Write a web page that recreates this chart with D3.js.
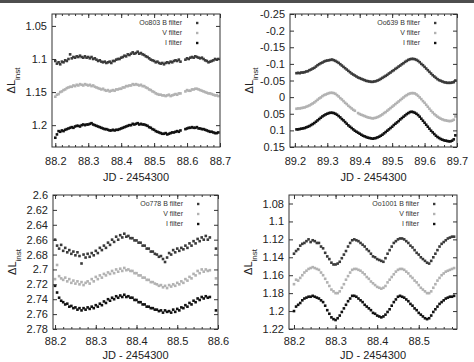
<!DOCTYPE html>
<html><head><meta charset="utf-8">
<script src="https://cdn.jsdelivr.net/npm/d3@7"></script>
<style>body{margin:0;background:#fff}svg{display:block}</style>
</head><body>
<svg id="c" width="474" height="362"></svg>
<script>
// ---- data ----
const seriesNames = ["B filter", "V filter", "I filter"];
const starNames = ["Oo803", "Oo639", "Oo778", "Oo1001"];
const xTitle = "JD - 2454300";

const p1XTicks = [88.2, 88.3, 88.4, 88.5, 88.6, 88.7];
const p1YTicks = [1.05, 1.1, 1.15, 1.2];
const p1Start = 88.2, p1Step = 0.005;
const p1B = [1.103,1.107,1.105,1.108,1.104,1.105,1.102,1.103,1.100,1.093,
1.099,1.097,1.098,1.096,1.097,1.095,1.097,1.098,1.096,1.098,
1.097,1.099,1.097,1.100,1.099,1.101,1.103,1.102,1.104,1.105,
1.104,1.106,1.105,1.104,1.106,1.103,1.103,1.101,1.100,1.100,
1.098,1.097,1.095,1.096,1.093,1.094,1.092,1.090,1.092,1.091,
1.089,1.092,1.091,1.093,1.094,1.096,1.097,1.099,1.101,1.102,
1.103,1.105,1.104,1.106,1.107,1.106,1.108,1.106,1.105,1.106,
1.104,1.105,1.103,1.102,1.103,1.101,1.104,null,null,1.101,
1.099,1.100,1.098,1.097,1.098,1.096,1.097,1.098,1.099,1.098,
1.100,1.102,1.103,1.105,1.104,1.103,1.102,1.100,1.101,1.100];
const p1V = [1.157,1.154,1.153,1.150,1.149,1.147,1.146,1.144,1.143,1.142,
1.142,1.140,1.141,1.139,1.140,1.138,1.139,1.140,1.138,1.139,
1.140,1.139,1.141,1.140,1.142,1.143,1.144,1.145,1.146,1.145,
1.147,1.148,1.147,1.149,1.148,1.147,1.148,1.146,1.146,1.145,
1.145,1.143,1.143,1.141,1.141,1.140,1.140,1.138,1.139,1.138,
1.139,1.140,1.139,1.141,1.141,1.143,1.144,1.146,1.147,1.149,
1.150,1.152,1.153,1.154,1.154,1.155,1.155,1.156,1.155,1.154,
1.156,1.155,1.154,1.153,1.154,1.152,1.152,null,null,1.149,
1.147,1.148,1.148,1.146,1.146,1.145,1.145,1.146,1.147,1.148,
1.149,1.150,1.151,1.152,1.152,1.153,1.154,1.155,1.155,1.156];
const p1I = [1.219,1.214,1.209,1.210,1.208,1.209,1.207,1.206,1.205,1.204,
1.203,1.204,1.202,1.201,1.201,1.202,1.200,1.199,1.200,1.199,
1.199,1.198,1.197,1.199,1.200,1.201,1.202,1.203,1.204,1.205,
1.206,1.206,1.207,1.208,1.208,1.207,1.208,1.207,1.207,1.206,
1.205,1.204,1.203,1.202,1.201,1.200,1.200,1.198,1.199,1.198,
1.197,1.199,1.198,1.199,1.199,1.200,1.201,1.203,1.204,1.206,
1.207,1.209,1.210,1.211,1.212,1.213,1.213,1.212,1.214,1.213,
1.212,1.211,1.211,1.210,1.209,1.210,1.208,null,null,1.206,
1.205,1.204,1.204,1.203,1.204,1.204,1.203,1.205,1.205,1.206,
1.206,1.207,1.208,1.209,1.210,1.210,1.211,1.212,1.212,1.211];

const p2XTicks = [89.2, 89.3, 89.4, 89.5, 89.6, 89.7];
const p2YTicks = [-0.25, -0.2, -0.15, -0.1, -0.05, 0, 0.05, 0.1, 0.15];
const p2Start = 89.205, p2Step = 0.005;
const p2B = [-0.072,-0.073,-0.072,-0.074,-0.074,-0.075,-0.077,-0.078,-0.081,-0.083,
-0.086,-0.088,-0.092,-0.096,-0.099,-0.102,-0.104,-0.107,-0.109,-0.110,
-0.111,-0.112,-0.113,-0.111,-0.109,-0.106,-0.103,-0.099,-0.095,-0.091,
-0.087,-0.083,-0.079,-0.075,-0.071,-0.068,-0.065,-0.062,-0.059,-0.057,
-0.055,-0.053,-0.051,-0.049,-0.048,-0.047,-0.046,-0.046,-0.047,-0.048,
-0.050,-0.052,-0.055,-0.058,-0.061,-0.064,-0.067,-0.071,-0.074,-0.078,
-0.081,-0.085,-0.088,-0.092,-0.095,-0.099,-0.102,-0.106,-0.109,-0.112,
-0.114,-0.115,-0.115,-0.114,-0.112,-0.109,-0.105,-0.100,-0.096,-0.091,
-0.086,-0.081,-0.076,-0.071,-0.066,-0.062,-0.058,-0.054,-0.051,-0.049,
-0.047,-0.045,-0.044,-0.043,-0.043,-0.043,-0.044,-0.045,-0.050];
const p2V = [0.035,0.034,0.034,0.033,0.032,0.031,0.029,0.027,0.025,0.022,
0.019,0.016,0.012,0.008,0.004,0.001,-0.003,-0.006,-0.008,-0.010,
-0.012,-0.013,-0.013,-0.012,-0.010,-0.006,-0.002,0.003,0.007,0.012,
0.017,0.021,0.026,0.030,0.034,0.038,0.041,null,0.048,0.051,
0.053,0.055,0.057,0.059,0.061,0.062,0.063,0.064,0.063,0.062,
0.060,0.058,0.055,0.052,0.048,0.045,0.041,0.037,0.033,0.029,
0.025,0.021,0.017,0.013,0.009,0.005,0.001,-0.003,-0.006,-0.009,
-0.011,-0.012,-0.012,-0.011,-0.008,-0.004,0.001,0.006,0.012,0.017,
0.023,0.029,0.035,0.041,0.046,0.051,0.055,0.059,0.062,0.065,
0.067,0.069,0.070,0.071,0.072,0.072,0.071,0.068,0.058];
const p2I = [0.097,0.097,0.096,0.095,0.094,0.093,0.091,0.089,0.087,0.084,
0.081,0.078,0.074,0.070,0.066,0.062,0.058,0.055,0.052,0.050,
0.048,0.047,0.047,0.048,0.050,0.053,0.057,0.061,0.066,0.070,
0.075,0.080,0.085,0.089,0.093,0.097,0.101,0.104,0.107,0.110,
0.113,0.116,0.118,0.120,0.122,0.123,0.124,0.125,0.124,0.123,
0.121,0.119,0.116,0.113,0.109,0.105,0.101,0.097,0.093,0.089,
0.084,0.080,0.076,0.072,0.067,0.063,0.059,0.055,0.051,0.048,
0.045,0.044,0.045,0.047,0.050,0.054,0.059,0.065,0.071,0.077,
0.083,0.089,0.095,0.101,0.106,0.111,0.116,0.120,0.123,0.126,
0.128,0.130,0.131,0.132,0.133,0.133,0.131,0.127,0.115];

const p3XTicks = [88.2, 88.3, 88.4, 88.5, 88.6];
const p3YTicks = [2.6, 2.62, 2.64, 2.66, 2.68, 2.7, 2.72, 2.74, 2.76, 2.78];
const p3Start = 88.2, p3Step = 0.005;
const p3B = [2.660,2.668,2.672,2.667,2.675,2.671,2.677,2.674,2.679,2.676,
2.681,2.677,2.682,2.692,2.680,2.684,2.679,2.683,2.678,2.681,
2.675,2.678,2.671,2.674,2.668,2.671,2.664,2.667,2.660,2.663,
2.656,2.660,2.654,2.657,2.652,2.656,2.655,2.658,2.658,2.661,
2.661,2.664,2.664,2.668,2.668,2.672,2.672,2.676,2.676,2.679,
2.680,2.683,2.682,2.686,2.690,2.684,2.678,2.680,2.674,2.677,
2.672,2.675,2.671,2.673,2.668,2.671,2.665,2.668,2.662,2.665,
2.659,2.662,2.657,2.660,2.655,2.660,2.657,null,null,2.672];
const p3V = [2.713,2.694,2.709,2.712,2.714,2.711,2.716,2.713,2.718,2.715,
2.719,2.716,2.720,2.717,2.721,2.718,2.716,2.719,2.713,2.716,
2.710,2.713,2.708,2.711,2.706,2.708,2.704,2.706,2.702,2.705,
2.700,2.703,2.699,2.702,2.698,2.701,2.700,2.702,2.702,2.705,
2.705,2.708,2.708,2.711,2.711,2.714,2.714,2.717,2.717,2.719,
2.720,2.722,2.721,2.724,2.722,2.725,2.721,2.723,2.720,2.722,
2.718,2.720,2.716,2.718,2.713,2.715,2.710,2.712,2.706,2.708,
2.702,2.705,2.700,2.703,2.700,2.702,2.701,null,null,2.712];
const p3I = [2.722,2.731,2.738,2.742,2.744,2.747,2.746,2.750,2.749,2.752,
2.751,2.754,2.752,2.755,2.752,2.754,2.751,2.753,2.750,2.752,
2.748,2.750,2.746,2.748,2.743,2.745,2.740,2.742,2.738,2.740,
2.736,2.738,2.735,2.737,2.734,2.737,2.736,2.738,2.738,2.741,
2.741,2.744,2.744,2.747,2.747,2.750,2.750,2.752,2.752,2.754,
2.754,2.756,2.755,2.758,2.755,2.757,2.756,2.758,2.754,2.757,
2.753,2.755,2.751,2.752,2.748,2.750,2.745,2.747,2.742,2.744,
2.739,2.741,2.737,2.739,2.736,2.738,2.737,null,null,2.755];

const p4XTicks = [88.2, 88.3, 88.4, 88.5];
const p4YTicks = [1.08, 1.1, 1.12, 1.14, 1.16, 1.18, 1.2, 1.22];
const p4Start = 88.2, p4Step = 0.005;
const p4B = [1.136,1.133,1.131,1.127,1.125,1.124,1.122,1.120,1.123,1.121,
1.122,1.124,1.124,1.128,1.130,1.135,1.139,1.142,1.146,1.148,
1.148,1.147,1.145,1.141,1.137,1.133,1.128,1.124,1.121,1.120,
1.121,1.122,1.124,1.126,1.128,1.131,1.133,1.136,1.139,1.140,
1.142,1.143,1.144,1.145,1.141,1.136,1.132,1.128,1.124,1.122,
1.120,1.119,1.119,1.120,1.122,1.124,1.127,1.129,1.132,1.135,
1.137,1.140,1.142,1.144,1.146,1.147,1.144,1.140,1.136,1.132,
1.128,1.125,1.123,1.121,1.119,1.118,1.117,1.117];
const p4V = [1.170,1.165,1.166,1.163,1.160,1.157,1.155,1.153,1.152,1.151,
1.152,1.153,1.154,1.157,1.160,1.164,1.168,1.172,1.176,1.178,
1.180,1.180,1.178,1.174,1.170,1.165,1.161,1.157,1.154,1.153,
1.153,1.154,1.155,1.157,1.159,1.162,1.164,1.167,1.169,1.171,
1.173,1.174,1.175,1.174,1.172,1.168,1.165,1.162,1.159,1.156,
1.154,1.153,1.153,1.154,1.156,1.158,1.161,1.163,1.166,1.168,
1.171,1.174,1.176,1.178,1.180,1.180,1.178,1.174,1.170,1.166,
1.163,1.160,1.158,1.156,1.155,1.154,1.153,1.152];
const p4I = [1.200,1.195,1.193,1.191,1.188,1.186,1.185,1.184,1.184,1.183,
1.184,1.185,1.186,1.188,1.190,1.194,1.199,1.203,1.207,1.209,
1.210,1.208,1.205,1.201,1.197,1.193,1.189,1.186,1.183,1.183,
1.184,1.186,1.188,1.190,1.193,1.195,1.197,1.199,1.202,1.203,
1.205,1.206,1.207,1.206,1.204,1.201,1.198,1.194,1.190,1.187,
1.184,1.183,1.184,1.185,1.187,1.189,1.192,1.194,1.197,1.199,
1.202,1.204,1.206,1.208,1.209,1.208,1.205,1.201,1.198,1.195,
1.192,1.190,1.188,1.186,1.185,1.184,1.184,1.183];

// ---- layout ----
const colors = ["#3a3a3a", "#b2b2b2", "#111111"];
const FONT = "'Liberation Sans', Arial, Helvetica, sans-serif";
const panels = [
  {x0:52, x1:220, y0:14, y1:147, xd:[88.19,88.7], yd:[1.032,1.233], xt:p1XTicks, yt:p1YTicks, start:p1Start, step:p1Step, ser:[p1B,p1V,p1I], name:starNames[0], tpad:10, ty:34},
  {x0:290, x1:457, y0:14, y1:147, xd:[89.185,89.7], yd:[-0.25,0.15], xt:p2XTicks, yt:p2YTicks, start:p2Start, step:p2Step, ser:[p2B,p2V,p2I], name:starNames[1], tpad:10, ty:34},
  {x0:53, x1:218, y0:195, y1:329, xd:[88.195,88.6], yd:[2.6,2.78], xt:p3XTicks, yt:p3YTicks, start:p3Start, step:p3Step, ser:[p3B,p3V,p3I], name:starNames[2], tpad:8, ty:30},
  {x0:289, x1:457, y0:195, y1:329, xd:[88.188,88.592], yd:[1.0705,1.22], xt:p4XTicks, yt:p4YTicks, start:p4Start, step:p4Step, ser:[p4B,p4V,p4I], name:starNames[3], tpad:8, ty:30}
];

const svg = d3.select("#c");
svg.append("rect").attr("x",0).attr("y",0).attr("width",474).attr("height",3).attr("fill","#4e4e4e");

panels.forEach((p, k) => {
  const x = d3.scaleLinear().domain(p.xd).range([p.x0, p.x1]);
  const y = d3.scaleLinear().domain(p.yd).range([p.y0, p.y1]);
  const g = svg.append("g");
  const clipId = "clip" + k;
  svg.append("clipPath").attr("id", clipId).append("rect")
    .attr("x", p.x0).attr("y", p.y0).attr("width", p.x1 - p.x0).attr("height", p.y1 - p.y0);

  const pts = g.append("g").attr("clip-path", `url(#${clipId})`);
  p.ser.forEach((vals, si) => {
    const data = vals.map((v, i) => ({t: p.start + i * p.step, v})).filter(d => d.v !== null);
    pts.selectAll(null).data(data).enter().append("rect")
      .attr("x", d => x(d.t) - 1.3).attr("y", d => y(d.v) - 1.3)
      .attr("width", 2.6).attr("height", 2.6).attr("fill", colors[si]);
  });

  const minors = d3.range(Math.ceil(p.xd[0] / 0.02 - 1e-6), Math.floor(p.xd[1] / 0.02 + 1e-6) + 1).map(i => +(i * 0.02).toFixed(2));
  const styleAxis = a => {
    a.select(".domain").remove();
    a.selectAll("line").attr("stroke", "#333");
    a.selectAll("text").attr("fill", "#222").style("font-family", FONT).style("font-size", "11px");
  };
  g.append("g").attr("transform", `translate(0,${p.y1})`)
    .call(d3.axisBottom(x).tickValues(p.xt).tickSize(-4).tickPadding(p.tpad).tickFormat(d => String(d))).call(styleAxis);
  g.append("g").attr("transform", `translate(0,${p.y1})`)
    .call(d3.axisBottom(x).tickValues(minors).tickSize(-2).tickFormat("")).call(styleAxis);
  g.append("g").attr("transform", `translate(0,${p.y0})`)
    .call(d3.axisTop(x).tickValues(p.xt).tickSize(-4).tickFormat("")).call(styleAxis);
  g.append("g").attr("transform", `translate(0,${p.y0})`)
    .call(d3.axisTop(x).tickValues(minors).tickSize(-2).tickFormat("")).call(styleAxis);
  g.append("g").attr("transform", `translate(${p.x0},0)`)
    .call(d3.axisLeft(y).tickValues(p.yt).tickSize(-4).tickPadding(5).tickFormat(d => String(d))).call(styleAxis);
  g.append("g").attr("transform", `translate(${p.x1},0)`)
    .call(d3.axisRight(y).tickValues(p.yt).tickSize(-4).tickFormat("")).call(styleAxis);

  g.append("rect").attr("x", p.x0).attr("y", p.y0).attr("width", p.x1 - p.x0).attr("height", p.y1 - p.y0)
    .attr("fill", "none").attr("stroke", "#333").attr("stroke-width", 1);

  g.append("text").attr("x", (p.x0 + p.x1) / 2).attr("y", p.y1 + p.ty).attr("text-anchor", "middle")
    .style("font-family", FONT).style("font-size", "11px").attr("fill", "#222").text(xTitle);

  const yt = g.append("text").attr("transform", `translate(${p.x0 - 37},${(p.y0 + p.y1) / 2}) rotate(-90)`)
    .attr("text-anchor", "middle").style("font-family", FONT).style("font-size", "11px").attr("fill", "#222");
  yt.append("tspan").text("\u0394L");
  yt.append("tspan").attr("baseline-shift", "sub").style("font-size", "8px").text("inst");

  const lx = p.x0 + 130, ly = p.y0 + 9;
  seriesNames.forEach((s, si) => {
    const label = si === 0 ? p.name + " " + s : s;
    g.append("text").attr("x", lx).attr("y", ly + si * 10).attr("dy", "0.35em").attr("text-anchor", "end")
      .style("font-family", FONT).style("font-size", "7px").attr("fill", "#333").text(label);
    g.append("rect").attr("x", lx + 14).attr("y", ly + si * 10 - 1.2).attr("width", 2.4).attr("height", 2.4).attr("fill", colors[si]);
  });
});
</script>
</body></html>
